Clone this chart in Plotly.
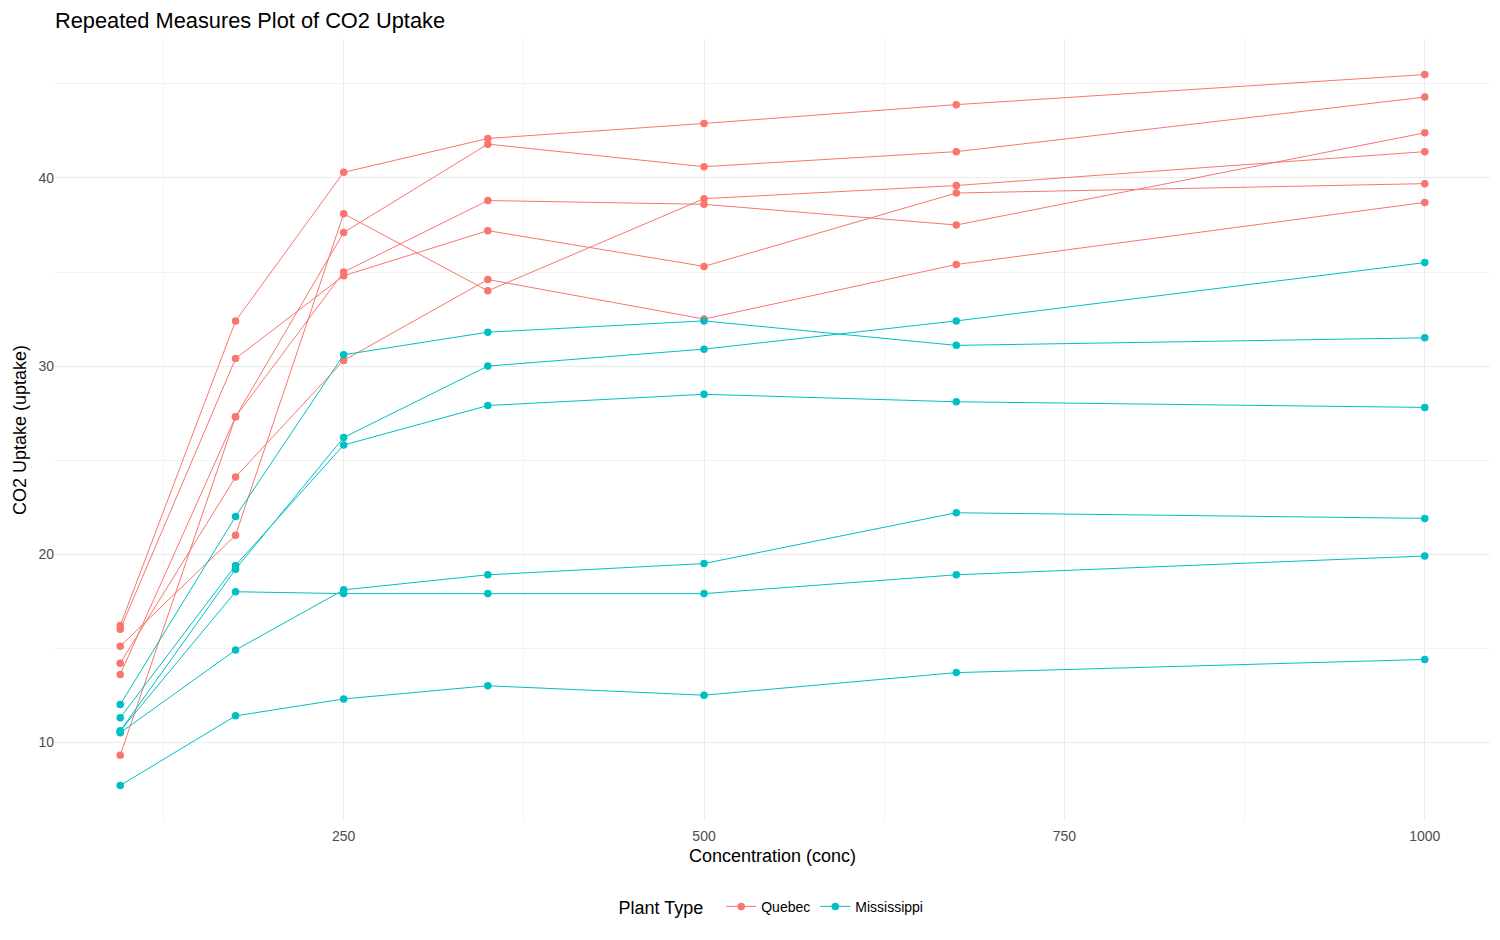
import plotly.graph_objects as go

conc = [95, 175, 250, 350, 500, 675, 1000]
plants = ["Qn1", "Qn2", "Qn3", "Qc1", "Qc3", "Qc2", "Mn3", "Mn2", "Mn1", "Mc2", "Mc3", "Mc1"]
plant_type = ["Quebec"] * 6 + ["Mississippi"] * 6
uptake_Qn1 = [16.0, 30.4, 34.8, 37.2, 35.3, 39.2, 39.7]
uptake_Qn2 = [13.6, 27.3, 37.1, 41.8, 40.6, 41.4, 44.3]
uptake_Qn3 = [16.2, 32.4, 40.3, 42.1, 42.9, 43.9, 45.5]
uptake_Qc1 = [14.2, 24.1, 30.3, 34.6, 32.5, 35.4, 38.7]
uptake_Qc3 = [15.1, 21.0, 38.1, 34.0, 38.9, 39.6, 41.4]
uptake_Qc2 = [9.3, 27.3, 35.0, 38.8, 38.6, 37.5, 42.4]
uptake_Mn3 = [11.3, 19.4, 25.8, 27.9, 28.5, 28.1, 27.8]
uptake_Mn2 = [12.0, 22.0, 30.6, 31.8, 32.4, 31.1, 31.5]
uptake_Mn1 = [10.6, 19.2, 26.2, 30.0, 30.9, 32.4, 35.5]
uptake_Mc2 = [7.7, 11.4, 12.3, 13.0, 12.5, 13.7, 14.4]
uptake_Mc3 = [10.6, 18.0, 17.9, 17.9, 17.9, 18.9, 19.9]
uptake_Mc1 = [10.5, 14.9, 18.1, 18.9, 19.5, 22.2, 21.9]
uptakes = [uptake_Qn1, uptake_Qn2, uptake_Qn3, uptake_Qc1, uptake_Qc3, uptake_Qc2,
           uptake_Mn3, uptake_Mn2, uptake_Mn1, uptake_Mc2, uptake_Mc3, uptake_Mc1]
colors = {"Quebec": "#F8766D", "Mississippi": "#00BFC4"}

fig = go.Figure()
shown = set()
for p, t, u in zip(plants, plant_type, uptakes):
    fig.add_trace(go.Scatter(
        x=conc, y=u, mode="lines+markers", name=t, legendgroup=t,
        showlegend=t not in shown,
        line=dict(color=colors[t], width=1),
        marker=dict(color=colors[t], size=7.5),
        hovertext=p,
    ))
    shown.add(t)

font = "Liberation Sans, Arial, sans-serif"
fig.update_layout(
    width=1500, height=940,
    paper_bgcolor="white", plot_bgcolor="white",
    font=dict(family=font, color="black"),
    margin=dict(l=47, r=18, t=31, b=127),
    title=dict(text="Repeated Measures Plot of CO2 Uptake", x=0.0313, xanchor="left",
               y=0.9865, yanchor="middle", font=dict(size=21.8, color="black")),
    xaxis=dict(range=[49.75, 1045.25], tickvals=[250, 500, 750, 1000],
               showgrid=True, gridcolor="#EBEBEB", gridwidth=1.1, zeroline=False,
               ticks="", showline=False, ticklabelstandoff=5,
               tickfont=dict(size=14, color="#4D4D4D"),
               minor=dict(tickvals=[125, 375, 625, 875], showgrid=True,
                          gridcolor="#F3F3F3", gridwidth=0.6),
               title=dict(text="Concentration (conc)", font=dict(size=18, color="black"),
                          standoff=6)),
    yaxis=dict(range=[5.81, 47.39], tickvals=[10, 20, 30, 40],
               showgrid=True, gridcolor="#EBEBEB", gridwidth=1.1, zeroline=False,
               ticks="", showline=False,
               tickfont=dict(size=14, color="#4D4D4D"),
               minor=dict(tickvals=[15, 25, 35, 45], showgrid=True,
                          gridcolor="#F3F3F3", gridwidth=0.6),
               title=dict(text="CO2 Uptake (uptake)", font=dict(size=18, color="black"),
                          standoff=7)),
    legend=dict(orientation="h", x=0.5, xanchor="center", y=-0.111, yanchor="middle",
                title=dict(text="Plant Type  ", font=dict(size=18, color="black")),
                font=dict(size=14, color="black"), itemwidth=30),
    showlegend=True,
)

fig.write_html("out.html")
